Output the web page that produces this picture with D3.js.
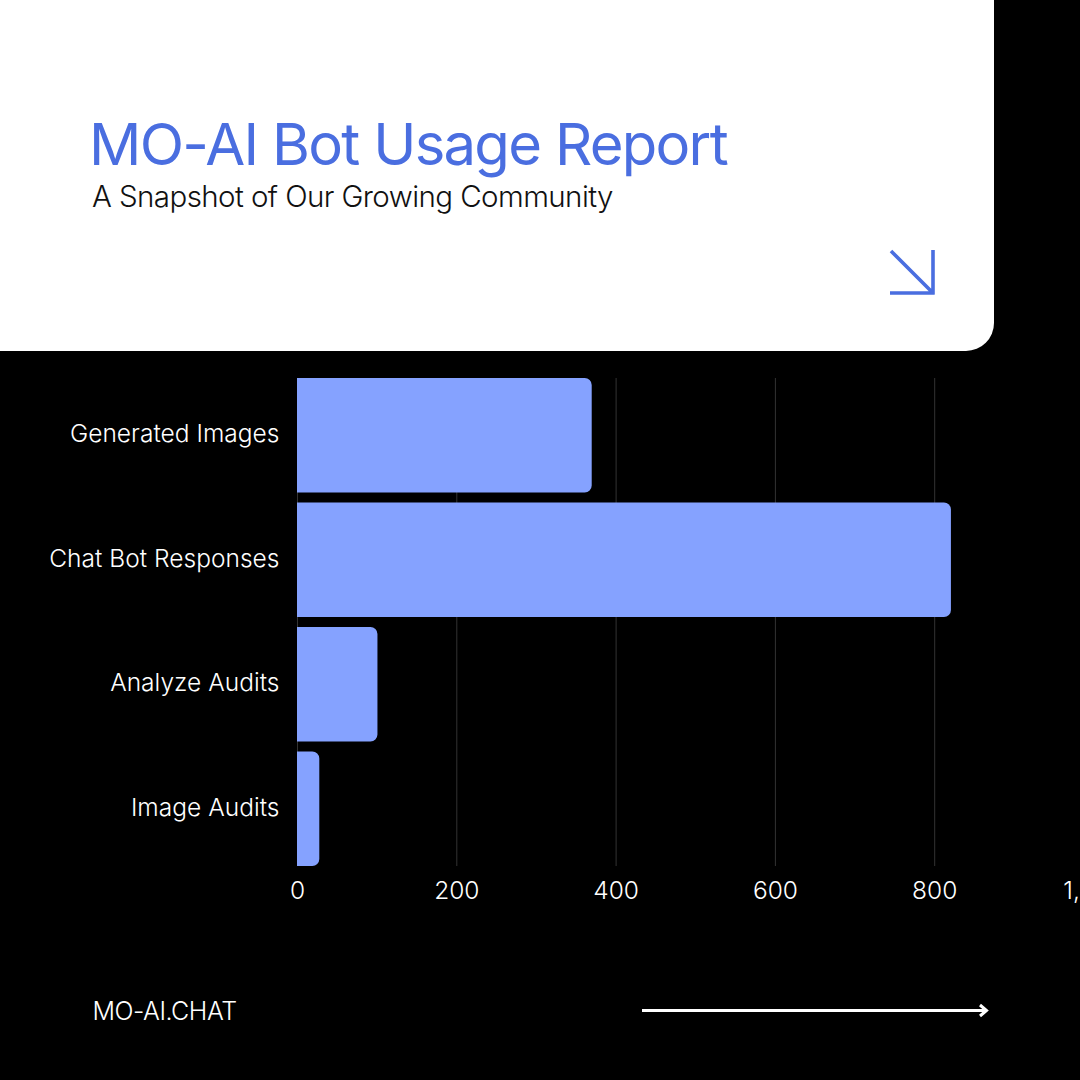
<!DOCTYPE html>
<html>
<head>
<meta charset="utf-8">
<script src="https://cdn.jsdelivr.net/npm/d3@7"></script>
<style>
html, body { margin: 0; padding: 0; background: #000; overflow: hidden; }
text { font-family: Inter, "Noto Sans", sans-serif; }
</style>
</head>
<body>
<script>
var categories = ["Generated Images", "Chat Bot Responses", "Analyze Audits", "Image Audits"];
var usage = [370, 821, 101, 28];
var xTicks = [0, 200, 400, 600, 800, 1000];

var w = 1080, h = 1080;

var svg = d3.select("body").append("svg")
	.attr("width", w)
	.attr("height", h)
	.style("display", "block");

svg.append("rect").attr("width", w).attr("height", h).attr("fill", "#000");

// white header card, rounded only at the bottom right
svg.append("path")
	.attr("d", "M0,0H994V323A28,28 0 0 1 966,351H0Z")
	.attr("fill", "#fff");

svg.append("text")
	.attr("x", 89).attr("y", 165)
	.attr("font-size", 58).attr("font-weight", 400)
	.attr("letter-spacing", -1.72)
	.attr("fill", "#4a6ee0")
	.text("MO-AI Bot Usage Report");

svg.append("text")
	.attr("x", 92).attr("y", 207)
	.attr("font-size", 29.5).attr("font-weight", 300)
	.attr("letter-spacing", -0.58)
	.attr("fill", "#111")
	.text("A Snapshot of Our Growing Community");

// corner arrow
svg.append("path")
	.attr("d", "M891,251L933,293M933,250V294.5M890,293H934.5")
	.attr("fill", "none")
	.attr("stroke", "#4a6ee0")
	.attr("stroke-width", 3.6);

var x = d3.scaleLinear().domain([0, 1000]).range([297, 1093.5]);
var y = d3.scaleBand().domain(categories).range([373, 871]).paddingInner(0.08).paddingOuter(0.04);

// grid
svg.append("g").selectAll("line")
	.data(xTicks)
	.enter()
	.append("line")
	.attr("x1", d => x(d) + 0.5)
	.attr("x2", d => x(d) + 0.5)
	.attr("y1", 378)
	.attr("y2", 866)
	.attr("stroke", "#333")
	.attr("stroke-width", 1);

// bars, rounded on the right end only
var r = 7;
svg.append("g").selectAll("path")
	.data(usage)
	.enter()
	.append("path")
	.attr("d", function(d, i) {
		var top = y(categories[i]), bh = y.bandwidth(), x0 = x(0), x1 = x(d);
		return "M" + x0 + "," + top + "H" + (x1 - r) +
			"A" + r + "," + r + " 0 0 1 " + x1 + "," + (top + r) +
			"V" + (top + bh - r) +
			"A" + r + "," + r + " 0 0 1 " + (x1 - r) + "," + (top + bh) +
			"H" + x0 + "Z";
	})
	.attr("fill", "#85a2ff");

// category labels
var yAxis = d3.axisLeft(y).tickSize(0).tickPadding(17.5);
var yG = svg.append("g").attr("transform", "translate(297,-1)").call(yAxis);
yG.select(".domain").remove();
yG.selectAll("text")
	.attr("font-size", 24.5).attr("font-weight", 300)
	.attr("letter-spacing", 0.03)
	.attr("fill", "#fff");

// value labels
var xAxis = d3.axisBottom(x).tickValues(xTicks).tickSize(0).tickPadding(0).tickFormat(d3.format(","));
var xG = svg.append("g").attr("transform", "translate(0,881.5)").call(xAxis);
xG.select(".domain").remove();
xG.selectAll("text")
	.attr("font-size", 24.5).attr("font-weight", 300)
	.attr("fill", "#fff");

// footer
svg.append("text")
	.attr("x", 92.5).attr("y", 1019.5)
	.attr("font-size", 25).attr("font-weight", 300)
	.attr("letter-spacing", -0.45)
	.attr("fill", "#fff")
	.text("MO-AI.CHAT");

svg.append("path")
	.attr("d", "M642,1010.5H986M980,1005L986.5,1010.5L980,1016")
	.attr("fill", "none")
	.attr("stroke", "#fff")
	.attr("stroke-width", 3);
</script>
</body>
</html>
